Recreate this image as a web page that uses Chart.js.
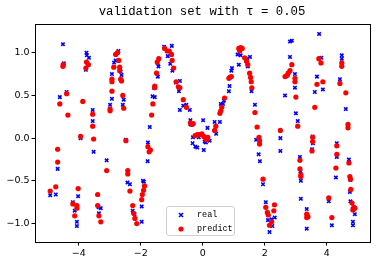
<!DOCTYPE html>
<html>
<head>
<meta charset="utf-8">
<script src="https://cdn.jsdelivr.net/npm/chart.js@4.4.1/dist/chart.umd.min.js"></script>
<style>
  html, body { margin: 0; padding: 0; background: #fff; }
  #wrap { position: relative; width: 376px; height: 264px; }
  #title {
    position: absolute; left: 0; width: 404px; top: 5px; text-align: center;
    font-family: "Liberation Mono", "DejaVu Sans Mono", monospace; font-size: 12.3px; color: #000;
  }
  #legend {
    position: absolute; left: 166px; top: 206px; width: 69px; height: 30px; box-sizing: border-box;
    border: 1px solid #d0d0d0; border-radius: 3px; background: rgba(255,255,255,0.85);
    font-family: "Liberation Mono", "DejaVu Sans Mono", monospace; font-size: 8.5px; color: #000;
  }
  .row { position: absolute; left: 0; height: 12px; line-height: 12px; }
  .row span { position: absolute; left: 30px; white-space: nowrap; }
  .row svg { position: absolute; left: 11px; top: 3px; }
</style>
</head>
<body>
<div id="wrap">
  <canvas id="chart" width="376" height="264"></canvas>
  <div id="title">validation set with τ = 0.05</div>
  <div id="legend">
    <div class="row" style="top:2px"><svg width="6" height="6"><path d="M1 1 L5 5 M5 1 L1 5" stroke="#0000ff" stroke-width="1.6"/></svg><span>real</span></div>
    <div class="row" style="top:16px"><svg width="6" height="6"><circle cx="3" cy="3" r="2.6" fill="#ff0000"/></svg><span>predict</span></div>
  </div>
</div>
<script>
// values
const realX = [-4.92, -4.74, -4.68, -4.61, -4.51, -4.48, -4.39, -4.19, -4.13, -4.06, -4.06, -4.02, -3.94, -3.77, -3.75, -3.74, -3.67, -3.55, -3.55, -3.52,
  -3.36, -3.29, -3.35, -3.10, -2.99, -2.93, -2.93, -2.86, -2.81, -2.72, -2.65, -2.62, -2.55, -2.58, -2.48, -2.43, -2.35, -2.26, -2.20, -1.97,
  -1.97, -1.90, -1.93, -1.78, -1.77, -1.71, -1.62, -1.55, -1.57, -1.45, -1.43, -1.46, -1.25, -1.13, -1.00, -1.05, -0.98, -0.74, -0.87, -0.77,
  -0.63, -0.53, -0.74, -0.42, -0.40, -0.40, -0.32, -0.33, -0.24, -0.18, -0.13, 0.01, 0.03, 0.06, 0.10, 0.15, 0.22, 0.38, 0.43, 0.55,
  0.58, 0.65, 0.68, 0.84, 0.86, 0.92, 0.94, 1.12, 1.22, 1.16, 1.43, 1.52, 1.45, 1.57, 1.68, 1.72, 1.80, 1.84, 1.94, 2.03,
  2.10, 2.15, 2.22, 2.32, 2.24, 2.50, 2.50, 2.65, 2.74, 2.81, 2.81, 2.87, 2.97, 2.97, 3.00, 3.06, 3.13, 3.15, 3.16, 3.16,
  3.35, 3.35, 3.54, 3.55, 3.52, 3.61, 3.68, 3.75, 3.82, 3.87, 4.06, 4.16, 4.29, 4.32, 4.32, 4.42, 4.48, 4.48, 4.61, 4.71,
  4.76, 4.74, 4.76, 4.83, 4.90, 4.84, 4.84];
const realY = [-0.67, -0.66, -0.36, 0.48, 1.10, 0.875, 0.54, -0.75, -0.85, -0.98, -1.03, -0.68, 0.00, 0.80, 1.00, 0.97, 0.94, 0.33, 0.20, -0.16,
  -0.81, -0.82, -0.88, -0.26, 0.39, 0.46, 0.75, 0.885, 0.91, 1.02, 0.78, 0.74, 0.45, 0.39, -0.02, -0.52, -0.54, -0.85, -0.89, -0.98,
  -0.80, -0.51, -0.50, -0.27, -0.05, 0.13, 0.49, 0.48, 0.59, 0.72, 0.84, 0.88, 1.07, 0.96, 1.08, 0.87, 0.79, 0.67, 0.65, 0.55,
  0.38, 0.39, 0.33, 0.33, 0.21, 0.16, 0.01, -0.06, -0.10, -0.11, 0.01, 0.21, -0.14, -0.04, -0.05, 0.12, -0.03, 0.19, 0.05, 0.19,
  0.40, 0.40, 0.44, 0.55, 0.61, 0.79, 0.82, 0.98, 0.97, 0.86, 0.93, 0.95, 0.84, 0.55, 0.39, -0.02, -0.19, -0.27, -0.54, -0.75,
  -0.96, -1.10, -0.95, -0.93, -1.03, 0.00, -0.15, 0.50, 0.74, 0.95, 1.13, 1.14, 0.75, 0.59, 0.29, 0.20, -0.22, -0.39, -0.50, -0.71,
  -0.83, -1.06, 0.02, -0.06, -0.13, 0.54, 0.72, 1.22, 0.94, 0.57, -0.74, -1.02, -0.46, -0.06, -0.22, 0.69, 0.97, 0.93, 0.34, -0.25,
  -0.49, -0.63, -0.74, -0.83, -0.89, -0.98, -1.02];

const predX = [-4.92, -4.74, -4.68, -4.68, -4.61, -4.51, -4.50, -4.39, -4.35, -4.19, -4.13, -4.06, -4.06, -4.02, -3.94, -3.87, -3.77, -3.75, -3.69, -3.55,
  -3.55, -3.52, -3.39, -3.39, -3.35, -3.29, -3.10, -2.99, -2.99, -2.93, -2.93, -2.93, -2.87, -2.81, -2.75, -2.71, -2.68, -2.68, -2.65, -2.62,
  -2.58, -2.55, -2.48, -2.42, -2.42, -2.35, -2.26, -2.23, -2.19, -2.13, -1.97, -1.95, -1.91, -1.88, -1.77, -1.73, -1.69, -1.65, -1.61, -1.55,
  -1.55, -1.49, -1.47, -1.42, -1.23, -1.15, -1.08, -1.01, -0.99, -0.94, -0.86, -0.79, -0.74, -0.63, -0.53, -0.40, -0.35, -0.31, -0.25, -0.18,
  -0.11, -0.03, 0.03, 0.10, 0.16, 0.12, 0.38, 0.42, 0.55, 0.58, 0.61, 0.70, 0.84, 0.87, 0.92, 1.16, 1.19, 1.22, 1.27, 1.35,
  1.41, 1.45, 1.51, 1.54, 1.56, 1.58, 1.68, 1.75, 1.81, 1.83, 1.83, 1.94, 2.03, 2.08, 2.11, 2.15, 2.22, 2.29, 2.31, 2.50,
  2.65, 2.70, 2.75, 2.81, 2.87, 2.97, 2.97, 3.00, 3.06, 3.13, 3.13, 3.16, 3.16, 3.35, 3.39, 3.35, 3.52, 3.54, 3.54, 3.61,
  3.68, 3.74, 3.81, 3.87, 4.06, 4.16, 4.29, 4.32, 4.32, 4.42, 4.48, 4.48, 4.61, 4.68, 4.68, 4.71, 4.74, 4.76, 4.77, 4.81,
  4.87, 4.90, 4.84];
const predY = [-0.62, -0.57, -0.13, -0.28, 0.40, 0.84, 0.86, 0.52, 0.27, -0.77, -0.91, -0.79, -0.82, -0.59, 0.02, 0.43, 0.82, 0.89, 0.86, 0.28,
  0.14, -0.01, -0.66, -0.79, -0.91, -0.98, -0.38, 0.32, 0.34, 0.55, 0.66, 0.69, 0.83, 0.98, 1.00, 0.91, 0.83, 0.79, 0.69, 0.67,
  0.50, 0.35, -0.03, -0.38, -0.42, -0.62, -0.79, -0.88, -0.94, -1.00, -0.72, -0.66, -0.61, -0.56, -0.10, -0.16, -0.14, 0.27, 0.40, 0.59,
  0.61, 0.76, 0.89, 0.93, 1.05, 1.02, 1.02, 0.98, 0.91, 0.82, 0.66, 0.60, 0.59, 0.45, 0.36, 0.18, 0.16, 0.17, 0.03, 0.04,
  0.04, 0.05, 0.02, 0.00, 0.01, -0.02, 0.09, 0.14, 0.29, 0.32, 0.36, 0.47, 0.70, 0.71, 0.72, 1.05, 1.02, 1.06, 1.05, 0.94,
  0.90, 0.86, 0.76, 0.71, 0.66, 0.59, 0.30, 0.13, 0.01, -0.03, -0.07, -0.48, -0.81, -0.87, -0.90, -1.02, -0.98, -0.85, -0.78, 0.09,
  0.72, 0.73, 0.76, 0.79, 0.86, 0.70, 0.66, 0.48, 0.14, -0.26, -0.36, -0.43, -0.45, -0.89, -0.92, -0.93, -0.15, 0.01, -0.04, 0.36,
  0.63, 0.93, 0.88, 0.66, -0.70, -0.93, -0.35, -0.09, -0.19, 0.64, 0.88, 0.84, 0.53, 0.16, 0.12, -0.29, -0.45, -0.48, -0.60, -0.76,
  -0.81, -0.82, -0.84];

const xTicks = [-4, -2, 0, 2, 4];
const yTicks = [-1.0, -0.5, 0.0, 0.5, 1.0];

function toPoints(xs, ys) {
    return xs.map((x, i) => ({ x: x, y: ys[i] }));
}

function fmt(v, digits) {
    const s = Math.abs(v).toFixed(digits);
    return v < 0 ? '\u2212' + s : s;
}

// matplotlib style box round the plot area
const frame = {
    id: 'frame',
    afterDraw(chart) {
        const a = chart.chartArea;
        const ctx = chart.ctx;
        ctx.save();
        ctx.strokeStyle = '#000';
        ctx.lineWidth = 1;
        ctx.strokeRect(Math.round(a.left) + 0.5, Math.round(a.top) + 0.5, Math.round(a.right - a.left), Math.round(a.bottom - a.top));
        ctx.restore();
    }
};

const tickFont = { family: 'DejaVu Sans', size: 9.5 };

new Chart(document.getElementById('chart'), {
    type: 'scatter',
    data: {
        datasets: [{
            label: 'real',
            data: toPoints(realX, realY),
            pointStyle: 'crossRot',
            radius: 2.4,
            borderWidth: 1.6,
            borderColor: '#0000ff',
            backgroundColor: '#0000ff',
            order: 1
        }, {
            label: 'predict',
            data: toPoints(predX, predY),
            pointStyle: 'circle',
            radius: 2.6,
            borderWidth: 0,
            borderColor: '#ff0000',
            backgroundColor: '#ff0000',
            order: 0
        }]
    },
    options: {
        responsive: false,
        animation: false,
        layout: { padding: { top: 24, right: 6, left: 0, bottom: 0 } },
        plugins: {
            legend: { display: false },
            title: { display: false },
            tooltip: { enabled: false }
        },
        scales: {
            x: {
                type: 'linear',
                min: -5.41,
                max: 5.39,
                afterBuildTicks: s => { s.ticks = xTicks.map(v => ({ value: v })); },
                afterFit: s => { s.height = 22; },
                grid: { drawOnChartArea: false, drawTicks: true, tickLength: 3.5, tickColor: '#000', tickWidth: 1 },
                border: { display: false },
                ticks: { color: '#000', font: tickFont, padding: 2, maxRotation: 0, callback: v => fmt(v, 0) }
            },
            y: {
                type: 'linear',
                min: -1.216,
                max: 1.336,
                afterBuildTicks: s => { s.ticks = yTicks.map(v => ({ value: v })); },
                afterFit: s => { s.width = 35; },
                grid: { drawOnChartArea: false, drawTicks: true, tickLength: 3.5, tickColor: '#000', tickWidth: 1 },
                border: { display: false },
                ticks: { color: '#000', font: tickFont, padding: 2, callback: v => fmt(v, 1) }
            }
        }
    },
    plugins: [frame]
});
</script>
</body>
</html>
